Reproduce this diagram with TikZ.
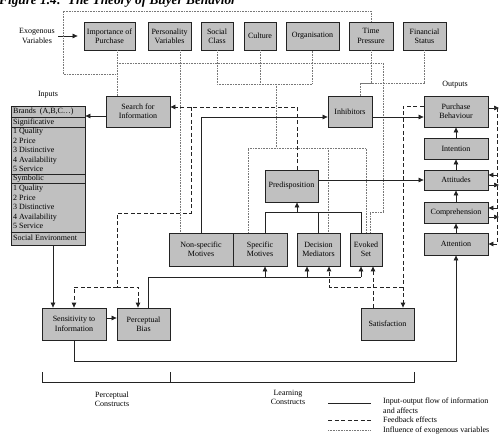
\documentclass[tikz,border=0pt]{standalone}
\usepackage{fontspec}
\setmainfont{Liberation Serif}
\usetikzlibrary{arrows.meta, positioning, calc}
\definecolor{boxgray}{RGB}{192, 192, 192}
\definecolor{linedark}{RGB}{35, 35, 35}
\definecolor{exogray}{RGB}{120, 120, 120}

\begin{document}
\begin{tikzpicture}[
    x=1pt, y=-1pt,
    >={Triangle[length=5pt, width=4.5pt]},
    box/.style={rectangle, draw=linedark, line width=0.8pt, fill=boxgray, align=center, inner sep=1pt, font=\fontsize{8}{9.4}\selectfont},
    flow/.style={line width=0.7pt, draw=linedark},
    arrow/.style={flow, ->},
    fb/.style={line width=0.8pt, draw=linedark, dash pattern=on 4pt off 2.5pt},
    fbarrow/.style={fb, ->},
    exo/.style={line width=0.5pt, draw=exogray, dash pattern=on 0.8pt off 0.8pt},
    label/.style={font=\fontsize{8}{9.4}\selectfont, align=center},
    rowtext/.style={font=\fontsize{8}{9.4}\selectfont, anchor=mid west, inner sep=0pt}
]
\useasboundingbox (0,0) rectangle (500,435);

% Title
\node[font=\fontsize{13.3}{15}\selectfont\bfseries\itshape, anchor=base west, inner sep=0pt] (title) at (-1,5) {Figure 1.4:\ \ The Theory of Buyer Behavior};

% Exogenous variables (top row)
\node[label] (exolbl) at (37,36) {Exogenous\\Variables};
\foreach \n/\x/\w/\t in {imp/109.5/51/{Importance of\\Purchase}, pers/169.5/43/{Personality\\Variables},
    soc/217/32/{Social\\Class}, cult/260/32/{Culture}, org/312.5/53/{Organisation},
    time/371/44/{Time\\Pressure}, fin/424.5/43/{Financial\\Status}} {
    \node[box, minimum width=\w pt, minimum height=28pt] (\n) at (\x,36) {\t};
}

% Inputs
\node[label] (inlbl) at (48,95) {Inputs};
\node[box, minimum width=74pt, minimum height=139pt] (brands) at (48,175.5) {};
\foreach \y in {117, 127, 174, 183, 232} {
    \draw[line width=0.8pt, draw=linedark] (brands.west |- 0,\y) -- (brands.east |- 0,\y);
}
\node[rowtext] (brandrow) at (13,111.5) {Brands\ \ (A,B,C\ldots)};
\node[rowtext] (sigrow) at (13,122) {Significative};
\node[rowtext] (symrow) at (13,178.5) {Symbolic};
\node[rowtext] (socrow) at (13,238.5) {Social Environment};
\foreach \t [count=\i] in {1 Quality, 2 Price, 3 Distinctive, 4 Availability, 5 Service} {
    \node[rowtext] (sig\i) at (13,{122.3+9.4*\i}) {\t};
    \node[rowtext] (sym\i) at (13,{178.6+9.6*\i}) {\t};
}

% Hypothetical constructs
\node[box, minimum width=64pt, minimum height=31pt] (search) at (138,111.5) {Search for\\Information};
\node[box, minimum width=44pt, minimum height=31pt] (inhib) at (350,111.5) {Inhibitors};
\node[box, minimum width=53pt, minimum height=32pt] (predis) at (291.5,186) {Predisposition};
\node[box, minimum width=64pt, minimum height=33pt] (nonspec) at (201,249.5) {Non-specific\\Motives};
\node[box, minimum width=54pt, minimum height=33pt] (spec) at (260,249.5) {Specific\\Motives};
\node[box, minimum width=43pt, minimum height=33pt] (decis) at (318.5,249.5) {Decision\\Mediators};
\node[box, minimum width=32pt, minimum height=33pt] (evoked) at (366,249.5) {Evoked\\Set};
\node[box, minimum width=64pt, minimum height=32pt] (sensit) at (74,324) {Sensitivity to\\Information};
\node[box, minimum width=53pt, minimum height=32pt] (percbias) at (143.5,324) {Perceptual\\Bias};
\node[box, minimum width=53pt, minimum height=32pt] (satisf) at (387.5,324) {Satisfaction};

% Outputs
\node[label] (outlbl) at (455,85) {Outputs};
\node[box, minimum width=64pt, minimum height=31pt] (purch) at (456,111.5) {Purchase\\Behaviour};
\node[box, minimum width=64pt, minimum height=21pt] (intent) at (456,148.5) {Intention};
\node[box, minimum width=64pt, minimum height=20pt] (attit) at (456,180) {Attitudes};
\node[box, minimum width=64pt, minimum height=21pt] (compr) at (456,212.5) {Comprehension};
\node[box, minimum width=64pt, minimum height=22pt] (atten) at (456,244) {Attention};

% Influence of exogenous variables
\draw[arrow, shorten >=6pt] (exolbl.east |- imp.west) -- (imp.west);
\draw[exo] (time.north) |- (63,11) |- (117,74);
\draw[exo] (imp.south -| 117,0) -- (search.north -| 117,0);
\draw[exo] (117,63) -| (383,212) -| (evoked.north -| 370,0);
\draw[exo] (pers.south -| 180,0) -- (nonspec.north -| 180,0);
\draw[exo] (soc.south) -- (soc.south |- 0,84) -| (org.south);
\draw[exo] (cult.south) -- (cult.south |- 0,84);
\draw[exo] (276,84) -- (276,148);
\draw[exo] (spec.north -| 248,0) -- (248,148) -| (evoked.north -| 366,0);
\draw[exo] (328,148) -- (decis.north -| 328,0);
\draw[exo] (time.south) -- (time.south |- 0,83) -| (inhib.north -| 360,0);
\draw[exo] (fin.south) |- (360,83);

% Input-output flow
\draw[arrow] (search.west |- 0,116) -- (brands.east |- 0,116);
\draw[arrow] (brands.south -| 53,0) -- (sensit.north -| 53,0);
\draw[arrow] (sensit.east |- 0,318) -- (percbias.west |- 0,318);
\draw[arrow] (sensit.south) |- (atten.south |- 0,361) -- (atten.south);
\draw[flow] (percbias.north -| 148,0) -- (148,277) -- (361,277);
\foreach \n/\x in {spec/265, decis/307, evoked/361} {
    \draw[arrow] (\x,277) -- (\n.south -| \x,0);
}
\draw[flow] (spec.north -| 265,0) -- (265,212) -| (evoked.north -| 361,0);
\draw[flow] (decis.north) -- (decis.north |- 0,212);
\draw[arrow] (297,212) -- (predis.south -| 297,0);
\draw[arrow] (nonspec.north) |- (inhib.west |- 0,117);
\draw[arrow] (inhib.east |- 0,117) -- (purch.west |- 0,117);
\draw[arrow] (predis.east |- 0,180) -- (attit.west);
\foreach \a/\b in {atten/compr, compr/attit, attit/intent, intent/purch} {
    \draw[arrow] (\a.north) -- (\b.south);
}
\draw[arrow] (purch.east |- 0,108) -- (499,108);
\draw[arrow] (attit.east |- 0,185) -- (499,185);
\draw[arrow] (compr.east |- 0,217) -- (499,217);

% Feedback effects
\draw[fb] (497,108) -- (497,244);
\foreach \n/\y in {attit/175, compr/208, atten/244} {
    \draw[fbarrow] (497,\y) -- (\n.east |- 0,\y);
}
\draw[fbarrow] (predis.north -| 297,0) |- (search.east |- 0,107);
\draw[fb] (191,107) |- (117,213) -- (117,287);
\draw[fbarrow] (117,287) -| (sensit.north);
\draw[fbarrow] (117,287) -| (percbias.north -| 138,0);
\draw[fbarrow] (purch.west |- 0,106) -| (satisf.north -| 403,0);
\draw[fbarrow] (403,287) -| (decis.south -| 329,0);
\draw[fbarrow] (satisf.north -| 373,0) -- (evoked.south -| 373,0);

% Constructs
\draw[flow] (42,372) |- (414,382) -- (414,372);
\draw[flow] (170,372) -- (170,382);
\node[label] (perclbl) at (112,399.5) {Perceptual\\Constructs};
\node[label] (learnlbl) at (288,397.5) {Learning\\Constructs};

% Legend
\draw[flow] (328,403) -- (371,403);
\node[label, align=left, anchor=north west, inner sep=0pt] (legflow) at (383,398) {Input-output flow of information\\and affects};
\draw[fb] (328,420) -- (371,420);
\node[rowtext] (legfb) at (383,420) {Feedback effects};
\draw[exo] (328,430) -- (371,430);
\node[rowtext] (legexo) at (383,430) {Influence of exogenous variables};

\end{tikzpicture}
\end{document}
